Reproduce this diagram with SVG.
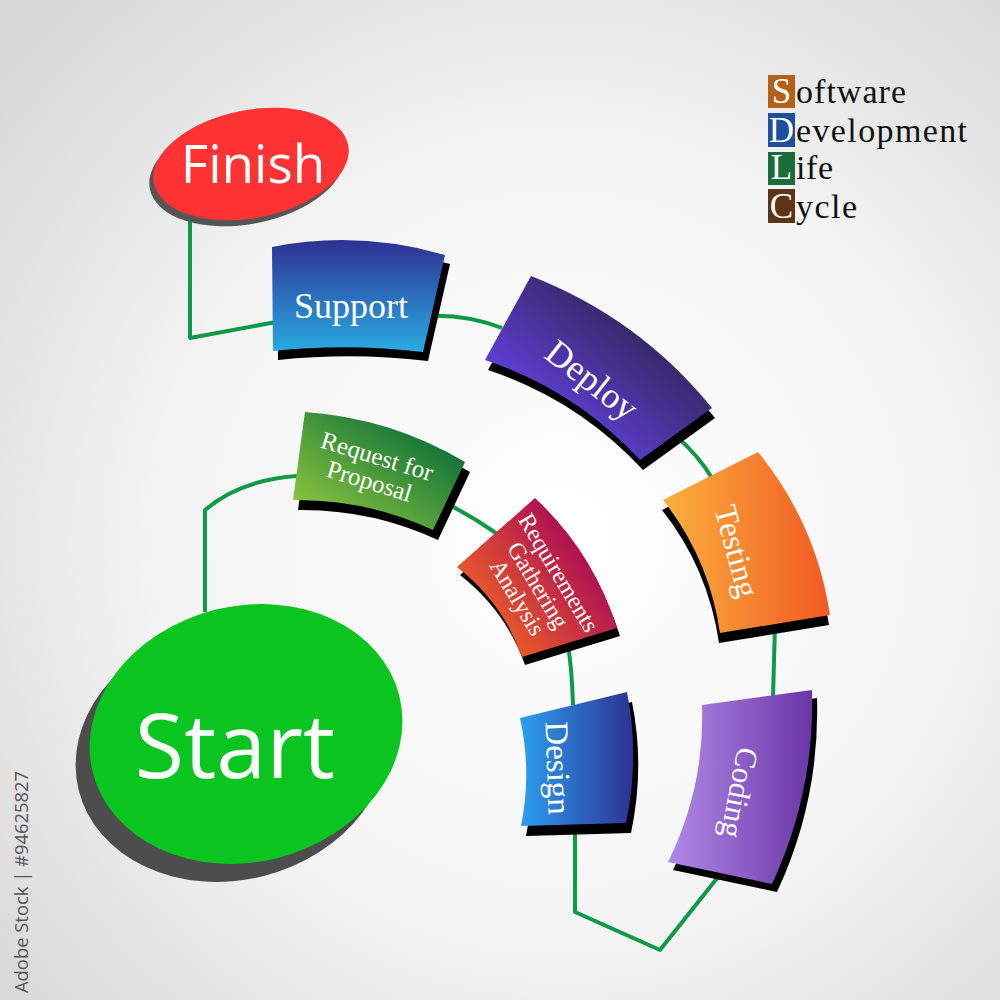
<svg xmlns="http://www.w3.org/2000/svg" width="1000" height="1000" viewBox="0 0 1000 1000">
  <defs>
    <radialGradient id="bg" cx="560" cy="540" r="720" gradientUnits="userSpaceOnUse">
      <stop offset="0" stop-color="#ffffff"/>
      <stop offset="0.55" stop-color="#f4f4f4"/>
      <stop offset="1" stop-color="#d8d8d8"/>
    </radialGradient>
    <linearGradient id="gSupport" x1="0" y1="0" x2="0" y2="1">
      <stop offset="0" stop-color="#2e3192"/>
      <stop offset="1" stop-color="#29abe2"/>
    </linearGradient>
    <linearGradient id="gDeploy" x1="0.1" y1="0.9" x2="0.9" y2="0.1">
      <stop offset="0" stop-color="#6f47ff"/>
      <stop offset="1" stop-color="#231d33"/>
    </linearGradient>
    <linearGradient id="gTesting" x1="0" y1="0" x2="1" y2="0">
      <stop offset="0" stop-color="#fbb03b"/>
      <stop offset="1" stop-color="#f15a24"/>
    </linearGradient>
    <linearGradient id="gCoding" x1="0" y1="0" x2="1" y2="0">
      <stop offset="0" stop-color="#b18ae8"/>
      <stop offset="1" stop-color="#6a36a6"/>
    </linearGradient>
    <linearGradient id="gDesign" x1="0" y1="0" x2="1" y2="0">
      <stop offset="0" stop-color="#2c9ff0"/>
      <stop offset="1" stop-color="#2e3192"/>
    </linearGradient>
    <linearGradient id="gReq" x1="0.1" y1="0.8" x2="0.9" y2="0.2">
      <stop offset="0" stop-color="#f26522"/>
      <stop offset="1" stop-color="#9e005d"/>
    </linearGradient>
    <linearGradient id="gRfp" x1="0.1" y1="0.9" x2="0.9" y2="0.1">
      <stop offset="0" stop-color="#8dc63f"/>
      <stop offset="1" stop-color="#006837"/>
    </linearGradient>
    <style>
      .conn { fill: none; stroke: #0f9a48; stroke-width: 4; stroke-linejoin: round; }
      .shadow { fill: #000000; }
      .lbl { font-family: "Liberation Serif", "Times New Roman", serif; fill: #ffffff; text-anchor: middle; }
      .big { font-family: "Open Sans", "Liberation Sans", sans-serif; fill: #ffffff; text-anchor: middle; }
      .title { font-family: "Liberation Serif", "Times New Roman", serif; font-size: 34px; fill: #111111; }
      .cap { font-family: "Liberation Serif", "Times New Roman", serif; font-size: 35px; fill: #ffffff; text-anchor: middle; }
      .wm { font-family: "Open Sans", "Liberation Sans", sans-serif; font-size: 18px; fill: #555555; }
    </style>
  </defs>

  <rect x="0" y="0" width="1000" height="1000" fill="url(#bg)"/>

  <g id="connectors">
    <path class="conn" d="M190,215 V338 L276,322"/>
    <path class="conn" d="M428,316 Q465,314 502,328"/>
    <path class="conn" d="M676,436 Q698,455 712,478"/>
    <path class="conn" d="M775,625 L773,697"/>
    <path class="conn" d="M722,872 L660,950 L575,912 L575,826"/>
    <path class="conn" d="M573,705 Q572,670 568,645"/>
    <path class="conn" d="M496,533 Q470,515 440,500"/>
    <path class="conn" d="M297,476 Q240,480 205,510 V612"/>
  </g>

  <g id="finish">
    <ellipse cx="247" cy="170" rx="99" ry="54" transform="rotate(-11 247 170)" fill="#555555"/>
    <ellipse cx="251" cy="164" rx="99" ry="54" transform="rotate(-11 251 164)" fill="#ff3333"/>
    <text class="big" x="253" y="183" font-size="53">Finish</text>
  </g>

  <g id="start">
    <ellipse cx="232" cy="752" rx="158" ry="128" transform="rotate(-14 232 752)" fill="#4d4d4d"/>
    <ellipse cx="246" cy="734" rx="158" ry="128" transform="rotate(-14 246 734)" fill="#0ac41f"/>
    <text class="big" x="235" y="778" font-size="90">Start</text>
  </g>

  <g id="support">
    <path class="shadow" transform="translate(5,9)" d="M272,247 Q358,230 445,255 L423,352 Q348,343 273,351 Z"/>
    <path fill="url(#gSupport)" d="M272,247 Q358,230 445,255 L423,352 Q348,343 273,351 Z"/>
    <text class="lbl" x="351" y="318" font-size="36">Support</text>
  </g>

  <g id="deploy">
    <path class="shadow" transform="translate(3,10)" d="M531,276 Q639,318 712,408 L640,460 Q575,390 485,360 Z"/>
    <path fill="url(#gDeploy)" d="M531,276 Q639,318 712,408 L640,460 Q575,390 485,360 Z"/>
    <text class="lbl" font-size="36" transform="translate(592,380) rotate(38)" y="12">Deploy</text>
  </g>

  <g id="testing">
    <path class="shadow" transform="translate(-1,10)" d="M663,500 L758,452 Q816,523 830,615 L720,633 Q709,558 663,500 Z"/>
    <path fill="url(#gTesting)" d="M663,500 L758,452 Q816,523 830,615 L720,633 Q709,558 663,500 Z"/>
    <text class="lbl" font-size="32" transform="translate(737,551) rotate(75)" y="11">Testing</text>
  </g>

  <g id="coding">
    <path class="shadow" transform="translate(5,8)" d="M702,705 L812,690 Q815,792 772,884 L668,862 Q705,787 702,705 Z"/>
    <path fill="url(#gCoding)" d="M702,705 L812,690 Q815,792 772,884 L668,862 Q705,787 702,705 Z"/>
    <text class="lbl" font-size="31" transform="translate(740,793) rotate(101)" y="11">Coding</text>
  </g>

  <g id="design">
    <path class="shadow" transform="translate(5,10)" d="M520,718 L627,692 Q640,757 626,823 L521,826 Q532,772 520,718 Z"/>
    <path fill="url(#gDesign)" d="M520,718 L627,692 Q640,757 626,823 L521,826 Q532,772 520,718 Z"/>
    <text class="lbl" font-size="33" transform="translate(558,768) rotate(88)" y="11">Design</text>
  </g>

  <g id="requirements">
    <path class="shadow" transform="translate(3,8)" d="M535,498 Q593,552 617,628 L522,657 Q503,603 457,567 Z"/>
    <path fill="url(#gReq)" d="M535,498 Q593,552 617,628 L522,657 Q503,603 457,567 Z"/>
    <g transform="translate(538,585) rotate(59)">
      <text class="lbl" font-size="24" y="-16">Requirements</text>
      <text class="lbl" font-size="24" y="8">Gathering</text>
      <text class="lbl" font-size="24" y="32">Analysis</text>
    </g>
  </g>

  <g id="rfp">
    <path class="shadow" transform="translate(5,10)" d="M305,412 Q391,418 465,462 L433,530 Q366,499 293,500 Z"/>
    <path fill="url(#gRfp)" d="M305,412 Q391,418 465,462 L433,530 Q366,499 293,500 Z"/>
    <g transform="translate(373,470) rotate(17)">
      <text class="lbl" font-size="25" y="-6">Request for</text>
      <text class="lbl" font-size="25" y="20">Proposal</text>
    </g>
  </g>

  <g id="title">
    <rect x="768" y="75" width="27" height="33" fill="#b3601b"/>
    <rect x="768" y="113" width="27" height="34" fill="#1d4f9e"/>
    <rect x="768" y="152" width="27" height="33" fill="#1a6c3b"/>
    <rect x="768" y="189" width="27" height="34" fill="#5d3417"/>
    <text class="cap" x="781.5" y="103">S</text>
    <text class="cap" x="781.5" y="142">D</text>
    <text class="cap" x="781.5" y="179">L</text>
    <text class="cap" x="781.5" y="218">C</text>
    <text class="title" x="796" y="103" textLength="110" lengthAdjust="spacing">oftware</text>
    <text class="title" x="796" y="142" textLength="171" lengthAdjust="spacing">evelopment</text>
    <text class="title" x="796" y="179" textLength="37" lengthAdjust="spacing">ife</text>
    <text class="title" x="796" y="218" textLength="61" lengthAdjust="spacing">ycle</text>
  </g>

  <text class="wm" transform="translate(28,993) rotate(-90)" textLength="222" lengthAdjust="spacingAndGlyphs">Adobe Stock | #94625827</text>
</svg>
